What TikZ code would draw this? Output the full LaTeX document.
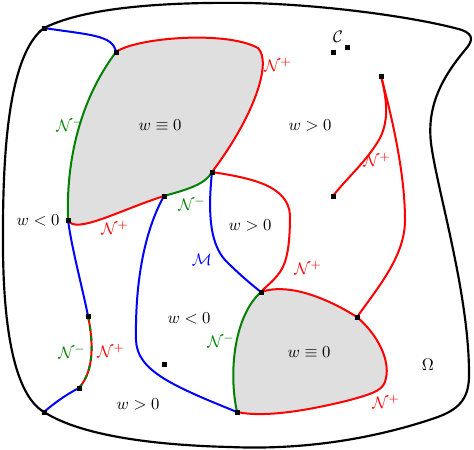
\documentclass[tikz,border=0pt]{standalone}
\usepackage{amsmath,amssymb}
\begin{document}
\begin{tikzpicture}[x=0.6pt,y=-0.6pt,
  nplus/.style={red},
  nminus/.style={green!50!black},
  curve/.style={line width=1.2pt}]
\useasboundingbox (0,0) rectangle (474,449);

% junction points
\coordinate (A) at (44,28);
\coordinate (B) at (116,52);
\coordinate (C) at (68,220);
\coordinate (D) at (164,196);
\coordinate (E) at (212,172);
\coordinate (F) at (261,292);
\coordinate (G) at (357,317);
\coordinate (H) at (237,412);
\coordinate (I) at (88,316);
\coordinate (J) at (79,388);
\coordinate (K) at (44,412);
\coordinate (T) at (381,76);
\coordinate (S) at (333,196);
\coordinate (c1) at (333,52);
\coordinate (c2) at (347,47);
\coordinate (q) at (164,364);

\def\onetop{.. controls (135,38) and (225,30) .. (258,48) .. controls (272,62) and (255,115) .. (E)}
\def\oneright{.. controls (205,185) and (185,190) .. (D)}
\def\onebottom{.. controls (120,210) and (75,235) .. (C)}
\def\oneleft{.. controls (66,160) and (80,100) .. (B)}
\def\twotop{.. controls (290,282) and (330,300) .. (G)}
\def\tworight{.. controls (378,335) and (390,360) .. (386,378) .. controls (384,390) and (375,393) .. (350,400) .. controls (310,410) and (265,418) .. (H)}
\def\twoleft{.. controls (228,370) and (235,315) .. (F)}

% the two sets where w vanishes
\fill[gray!25] (B) \onetop \oneright \onebottom \oneleft -- cycle;
\fill[gray!25] (F) \twotop \tworight \twoleft -- cycle;

% outer boundary
\draw[line width=1.3pt] (A) .. controls (90,5) and (180,2) .. (250,3)
  .. controls (330,5) and (420,18) .. (462,30)
  .. controls (475,35) and (472,42) .. (465,50)
  .. controls (440,80) and (425,110) .. (432,150)
  .. controls (440,200) and (470,300) .. (469,378)
  .. controls (468,400) and (458,410) .. (435,418)
  .. controls (370,440) and (300,450) .. (230,447)
  .. controls (150,445) and (80,435) .. (K)
  .. controls (15,395) and (2,330) .. (3,230)
  .. controls (3,120) and (15,50) .. (A) -- cycle;

\begin{scope}[curve]
\draw[nplus] (B) \onetop;
\draw[nminus] (E) \oneright;
\draw[nplus] (D) \onebottom;
\draw[nminus] (C) \oneleft;
\draw[nplus] (F) \twotop;
\draw[nplus] (G) \tworight;
\draw[nminus] (H) \twoleft;

\draw[blue] (A) .. controls (90,35) and (113,35) .. (B);
\draw[nplus] (E) .. controls (250,178) and (288,185) .. (290,215)
  .. controls (290,245) and (287,262) .. (280,272)
  .. controls (273,282) and (265,287) .. (F);
\draw[blue] (E) .. controls (207,220) and (212,245) .. (225,260)
  .. controls (240,275) and (252,285) .. (F);
\draw[nplus] (G) .. controls (380,285) and (405,255) .. (405,220)
  .. controls (405,170) and (390,110) .. (T);
\draw[nplus] (T) .. controls (387,100) and (389,120) .. (380,138)
  .. controls (368,160) and (345,180) .. (S);
\draw[blue] (H) .. controls (170,385) and (137,370) .. (136,340)
  .. controls (135,280) and (145,230) .. (D);
\draw[blue] (C) .. controls (72,250) and (83,290) .. (I);
\draw[nplus] (I) .. controls (93,340) and (95,370) .. (J);
\draw[nminus, dash pattern=on 3pt off 3pt] (I) .. controls (93,340) and (95,370) .. (J);
\draw[blue] (J) .. controls (65,395) and (52,405) .. (K);
\end{scope}

\foreach \p in {A,B,C,D,E,F,G,H,I,J,K,T,S,c1,c2,q}
  \fill (\p) ++(-2.5,-2.5) rectangle ++(5,5);

% labels
\node (z1) at (160,125) {$w \equiv 0$};
\node (z2) at (309,352) {$w \equiv 0$};
\node (p1) at (310,125) {$w > 0$};
\node (p2) at (250,225) {$w > 0$};
\node (p3) at (138,404) {$w > 0$};
\node (m1) at (38,220) {$w < 0$};
\node (m2) at (189,318) {$w < 0$};
\node (om) at (428,365) {$\Omega$};
\node (cc) at (338,37) {$\mathcal{C}$};
\node[blue] (mm) at (202,260) {$\mathcal{M}$};
\node[nplus] (np1) at (278,65) {$\mathcal{N}^+$};
\node[nplus] (np2) at (377,160) {$\mathcal{N}^+$};
\node[nplus] (np3) at (115,228) {$\mathcal{N}^+$};
\node[nplus] (np4) at (308,268) {$\mathcal{N}^+$};
\node[nplus] (np5) at (111,351) {$\mathcal{N}^+$};
\node[nplus] (np6) at (386,402) {$\mathcal{N}^+$};
\node[nminus] (nm1) at (70,125) {$\mathcal{N}^-$};
\node[nminus] (nm2) at (192,204) {$\mathcal{N}^-$};
\node[nminus] (nm3) at (221,341) {$\mathcal{N}^-$};
\node[nminus] (nm4) at (72,352) {$\mathcal{N}^-$};
\end{tikzpicture}
\end{document}
